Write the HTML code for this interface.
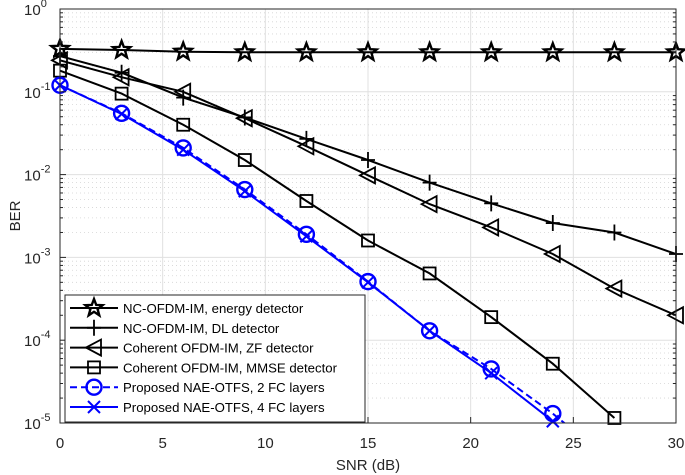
<!DOCTYPE html>
<html><head><meta charset="utf-8"><style>
html,body{margin:0;padding:0;background:#fff;}
svg{display:block;font-family:"Liberation Sans",Arial,sans-serif;}
</style></head><body>
<svg id="chart" width="685" height="475" viewBox="0 0 685 475">
<defs><clipPath id="clip"><rect x="60" y="9" width="616" height="414"/></clipPath></defs>
<rect x="60" y="9" width="616" height="414" fill="#fff"/>
<g id="grid"></g>
<g id="series" clip-path="url(#clip)"></g>
<g id="markers"></g>
<rect x="60" y="9" width="616" height="414" fill="none" stroke="#262626" stroke-width="1"/>
<g id="axes"></g>
<text x="368" y="470" text-anchor="middle" font-size="15" fill="#262626">SNR (dB)</text>
<text transform="translate(20,216) rotate(-90)" text-anchor="middle" font-size="15" fill="#262626">BER</text>
<g id="legend"></g>
</svg>
<script>
const snr = [0,3,6,9,12,15,18,21,24,27,30];
const energyBER = [0.33,0.32,0.305,0.30,0.30,0.30,0.30,0.30,0.30,0.30,0.30];
const dlBER = [0.27,0.17,0.085,0.049,0.027,0.015,0.008,0.0045,0.0026,0.002,0.0011];
const zfBER = [0.24,0.15,0.1,0.048,0.022,0.0098,0.0044,0.0023,0.0011,0.00042,0.0002];
const mmseBER = [0.18,0.095,0.04,0.015,0.0048,0.0016,0.00064,0.00019,0.000052,0.0000115];
const fc2BER = [0.12,0.055,0.021,0.0066,0.0019,0.00051,0.00013,0.000045,0.000013,0.0000032];
const fc4BER = [0.12,0.054,0.02,0.0063,0.0018,0.0005,0.00013,0.00004,0.0000105,0.0000028];
const xTicks = [0,5,10,15,20,25,30];
const yDecades = [0,-1,-2,-3,-4,-5];

const NS="http://www.w3.org/2000/svg";
const X0=60,X1=676,Y0=9,Y1=423;
const xs=v=>X0+(v/30)*(X1-X0);
const ys=v=>Y0+(-Math.log10(v)/5)*(Y1-Y0);
function mk(tag,attrs,parent){const e=document.createElementNS(NS,tag);for(const k in attrs)e.setAttribute(k,attrs[k]);parent.appendChild(e);return e;}
const grid=document.getElementById('grid'),axes=document.getElementById('axes');
xTicks.forEach(t=>{const l=mk('line',{x1:xs(t),x2:xs(t),y1:Y0,y2:Y1,stroke:'#e0e0e0','stroke-width':1},grid);

const tk=mk('line',{x1:xs(t),x2:xs(t),y1:Y1,y2:Y1-6,stroke:'#262626'},axes);

const tt=mk('text',{x:xs(t),y:Y1+25,'text-anchor':'middle','font-size':15,fill:'#262626'},axes);tt.textContent=t;
});
for(let d=0;d>-5;d--){for(let m=2;m<=9;m++){const v=m*Math.pow(10,d-1);const y=ys(v);
const l=mk('line',{x1:X0,x2:X1,y1:y,y2:y,stroke:'#d4d4d4','stroke-width':0.8,'stroke-dasharray':'1,3'},grid);

const tk=mk('line',{x1:X0,x2:X0+3,y1:y,y2:y,stroke:'#262626'},axes);
const tk2=mk('line',{x1:X1,x2:X1-3,y1:y,y2:y,stroke:'#262626'},axes);}}
yDecades.forEach(d=>{const y=ys(Math.pow(10,d));
const l=mk('line',{x1:X0,x2:X1,y1:y,y2:y,stroke:'#e0e0e0'},grid);
const tk=mk('line',{x1:X0,x2:X0+6,y1:y,y2:y,stroke:'#262626'},axes);
const t=mk('text',{x:X0-36,y:y+6,'font-size':15,fill:'#262626'},axes);t.innerHTML='10<tspan dy="-8" font-size="11">'+d+'</tspan>';
});
function marker(type,x,y,color,g){const s=7;let e;
if(type==='star'){let p=[];for(let i=0;i<10;i++){const r=i%2?3.8:9,a=-Math.PI/2+i*Math.PI/5;p.push((x+r*Math.cos(a)).toFixed(1)+','+(y+r*Math.sin(a)).toFixed(1));}
e=mk('polygon',{points:p.join(' '),fill:'none',stroke:color,'stroke-width':2.4},g);}
else if(type==='plus'){e=mk('path',{d:`M${x-s},${y}H${x+s}M${x},${y-s-1}V${y+s+1}`,stroke:color,'stroke-width':1.8,fill:'none'},g);}
else if(type==='tri'){e=mk('polygon',{points:`${x-8},${y} ${x+7},${y-8} ${x+7},${y+8}`,fill:'none',stroke:color,'stroke-width':1.8},g);}
else if(type==='sq'){e=mk('rect',{x:x-6,y:y-6,width:12,height:12,fill:'none',stroke:color,'stroke-width':1.8},g);}
else if(type==='circ'){e=mk('circle',{cx:x,cy:y,r:7.5,fill:'none',stroke:color,'stroke-width':2.4},g);}
else if(type==='x'){e=mk('path',{d:`M${x-6},${y-6}L${x+6},${y+6}M${x-6},${y+6}L${x+6},${y-6}`,stroke:color,'stroke-width':2,fill:'none'},g);}
return e;}
const seriesG=document.getElementById('series'),markG=document.getElementById('markers');
const defs=[
{name:'energy',data:energyBER,m:'star',c:'#000',dash:null,label:'NC-OFDM-IM, energy detector'},
{name:'dl',data:dlBER,m:'plus',c:'#000',dash:null,label:'NC-OFDM-IM, DL detector'},
{name:'zf',data:zfBER,m:'tri',c:'#000',dash:null,label:'Coherent OFDM-IM, ZF detector'},
{name:'mmse',data:mmseBER,m:'sq',c:'#000',dash:null,label:'Coherent OFDM-IM, MMSE detector'},
{name:'fc2',data:fc2BER,m:'circ',c:'#0000ff',dash:'7,4',label:'Proposed NAE-OTFS, 2 FC layers'},
{name:'fc4',data:fc4BER,m:'x',c:'#0000ff',dash:null,label:'Proposed NAE-OTFS, 4 FC layers'}];
defs.forEach(s=>{const d=s.data.map((v,i)=>(i?'L':'M')+xs(snr[i]).toFixed(1)+','+ys(v).toFixed(1)).join('');
const p=mk('path',{d:d,fill:'none',stroke:s.c,'stroke-width':2},seriesG);if(s.dash)p.setAttribute('stroke-dasharray',s.dash);

s.data.forEach((v,i)=>{const y=ys(v);if(y>Y1+4)return;const e=marker(s.m,xs(snr[i]),y,s.c,markG);
});});
const lg=document.getElementById('legend');
const box=mk('rect',{x:65,y:295,width:300,height:127,fill:'#fff',stroke:'#262626','stroke-width':1},lg);

defs.forEach((s,i)=>{const y=308+i*19.8;
const l=mk('line',{x1:70,x2:118,y1:y,y2:y,stroke:s.c,'stroke-width':2},lg);if(s.dash)l.setAttribute('stroke-dasharray',s.dash);

const e=marker(s.m,94,y,s.c,lg);
const t=mk('text',{x:123,y:y+5,'font-size':13.2,fill:'#000'},lg);t.textContent=s.label;
});
</script>
</body></html>
